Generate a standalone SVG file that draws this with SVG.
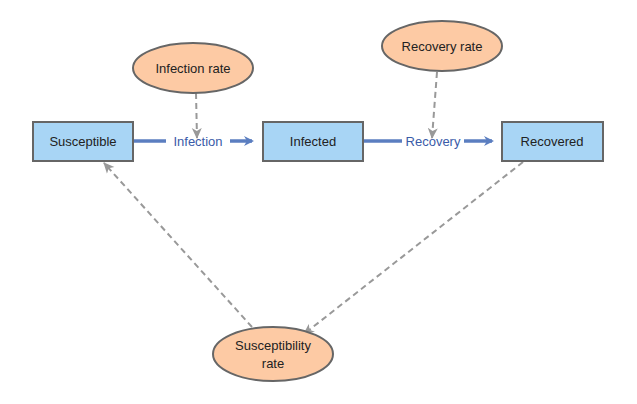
<svg xmlns="http://www.w3.org/2000/svg" width="637" height="404" viewBox="0 0 637 404">
<style>
.box{fill:#a8d5f5;stroke:#666;stroke-width:2}
.ell{fill:#fdcaa4;stroke:#666;stroke-width:2}
text{font-family:"Comic Sans MS","Liberation Sans",sans-serif;font-size:13px;fill:#222;text-anchor:middle}
.flow{stroke:#5b7ec0;stroke-width:3.5;fill:none}
.dash{stroke:#999;stroke-width:2;fill:none;stroke-dasharray:6,4}
.lbl{fill:#3a5ba8}
</style>
<defs>
<marker id="ab" markerWidth="10" markerHeight="10" refX="8" refY="5" orient="auto" markerUnits="userSpaceOnUse" viewBox="0 0 10 10"><path d="M0,0 L10,5 L0,10 L3,5 Z" fill="#5b7ec0"/></marker>
<marker id="ag" markerWidth="12" markerHeight="12" refX="10" refY="6" orient="auto" markerUnits="userSpaceOnUse" viewBox="0 0 12 12"><path d="M0,1 L11,6 L0,11 L3,6 Z" fill="#999"/></marker>
</defs>
<g id="connectors">
<path class="flow" d="M134,141 H252" marker-end="url(#ab)" style="stroke-width:3.5"/>
<rect x="166" y="133" width="64" height="16" fill="#fff"/>
<text class="lbl" x="198" y="146">Infection</text>
<path class="flow" d="M364,141 H492" marker-end="url(#ab)"/>
<rect x="402" y="133" width="62" height="16" fill="#fff"/>
<text class="lbl" x="433" y="146">Recovery</text>
<path class="dash" d="M196,93 L197,138" marker-end="url(#ag)"/>
<path class="dash" d="M437,72 L432,138" marker-end="url(#ag)"/>
<path class="dash" d="M523,162 L304,334" marker-end="url(#ag)"/>
<path class="dash" d="M252,327 L104,163" marker-end="url(#ag)"/>
</g>
<g id="susceptible"><rect class="box" x="33" y="122" width="100" height="39"/><text x="83" y="146">Susceptible</text></g>
<g id="infected"><rect class="box" x="263" y="122" width="100" height="39"/><text x="313" y="146">Infected</text></g>
<g id="recovered"><rect class="box" x="502" y="122" width="101" height="39"/><text x="552" y="146">Recovered</text></g>
<g id="infection-rate"><ellipse class="ell" cx="193" cy="68" rx="60" ry="25"/><text x="193" y="73">Infection rate</text></g>
<g id="recovery-rate"><ellipse class="ell" cx="442" cy="46" rx="60" ry="25"/><text x="442" y="51">Recovery rate</text></g>
<g id="susceptibility-rate"><ellipse class="ell" cx="273" cy="354" rx="60" ry="27"/><text x="273" y="350">Susceptibility</text><text x="273" y="368">rate</text></g>
</svg>
